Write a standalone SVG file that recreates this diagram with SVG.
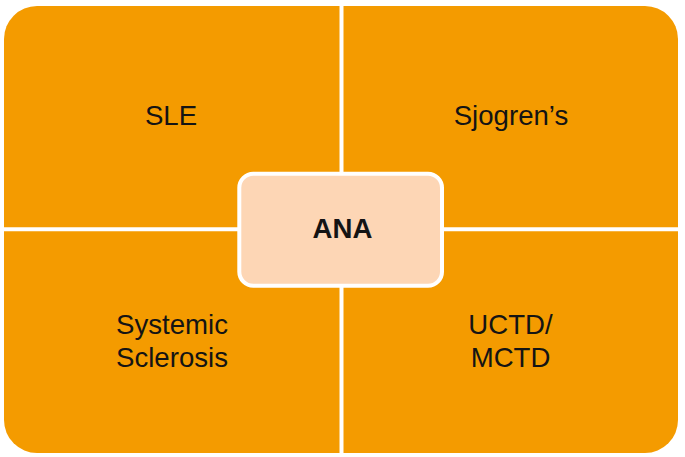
<svg xmlns="http://www.w3.org/2000/svg" width="685" height="457" viewBox="0 0 685 457">
<style>
.q{fill:#F49B00}
.t{font-family:"Liberation Sans",Arial,sans-serif;font-size:27.6px;fill:#141414;text-anchor:middle}
.b{font-weight:bold}
</style>
<rect x="0" y="0" width="685" height="457" fill="#ffffff"/>
<g id="sle">
<path class="q" d="M4,227.3 V39 A33,33 0 0 1 37,6 H339.5 V227.3 Z"/>
<text class="t" x="171" y="125">SLE</text>
</g>
<g id="sjogrens">
<path class="q" d="M343.5,6 H645 A33,33 0 0 1 678,39 V227.3 H343.5 Z"/>
<text class="t" x="511" y="125">Sjogren’s</text>
</g>
<g id="systemic-sclerosis">
<path class="q" d="M4,231.3 H339.5 V453 H37 A33,33 0 0 1 4,420 Z"/>
<text class="t" x="172" y="333.5">Systemic</text>
<text class="t" x="172" y="366.5">Sclerosis</text>
</g>
<g id="uctd-mctd">
<path class="q" d="M343.5,231.3 H678 V420 A33,33 0 0 1 645,453 H343.5 Z"/>
<text class="t" x="510.5" y="333.5">UCTD/</text>
<text class="t" x="510.5" y="366.5">MCTD</text>
</g>
<g id="connectors"></g>
<g id="ana">
<rect x="239.3" y="173.7" width="202.7" height="112" rx="14" fill="#FDD6B5" stroke="#ffffff" stroke-width="4"/>
<text class="t b" x="342.5" y="237.5">ANA</text>
</g>
</svg>
